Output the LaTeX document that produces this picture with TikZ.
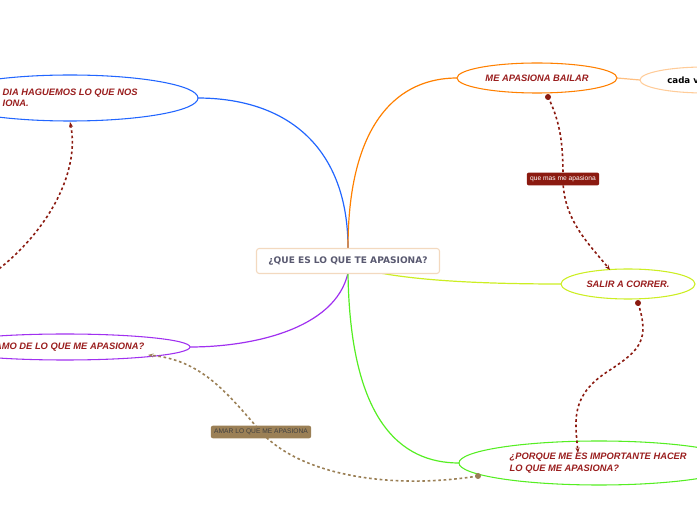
\documentclass[tikz,border=0pt]{standalone}
\usepackage{fontspec}
\setmainfont{Liberation Sans}
\newfontfamily\dvs{DejaVu Sans}
\usetikzlibrary{arrows.meta,shapes.geometric}
\definecolor{dred}{HTML}{8B1A10}
\definecolor{tred}{HTML}{9A1E1E}
\definecolor{brn}{HTML}{9B8056}
\definecolor{bl}{HTML}{2266FF}
\definecolor{pu}{HTML}{A030F0}
\definecolor{gr}{HTML}{55EE22}
\definecolor{yg}{HTML}{CCEE22}
\tikzset{x=0.75pt,y=-0.75pt,
 topic/.style={draw,ellipse,fill=white,line width=0.8pt},
 ttext/.style={font=\bfseries\itshape\fontsize{7}{8.5}\selectfont,text=tred,align=left},
 branch/.style={line width=0.9pt},
 rel/.style={draw=dred,line width=1.2pt,dash pattern=on 2pt off 2pt,-{Stealth[length=4pt]}},
 lbl/.style={rounded corners=1.5pt,font=\fontsize{5}{6}\selectfont,inner sep=2.5pt}}
\begin{document}
\begin{tikzpicture}
\useasboundingbox (0,0) rectangle (697,520);
\clip (0,0) rectangle (697,520);
\coordinate (ctop) at (348,248);
\coordinate (cbot) at (348,273);
\draw[branch,bl] (ctop) .. controls (348,150) and (290,98) .. (197,98);
\draw[branch,orange] (ctop) .. controls (348,120) and (400,78) .. (457,78);
\draw[branch,pu] (cbot) .. controls (335,330) and (250,347) .. (190,347);
\draw[branch,gr] (cbot) .. controls (350,420) and (400,463) .. (459,463);
\draw[branch,yg] (370,271) .. controls (420,282) and (500,284) .. (561,284);
\draw[branch,orange!50] (617,78) -- (640,80);
\node[topic,draw=bl,minimum width=256*0.75pt,minimum height=46*0.75pt] (blue) at (70,98) {};
\node[ttext,anchor=west] at (-2,98) {DIA HAGUEMOS LO QUE NOS\\IONA.};
\node[topic,draw=pu,minimum width=250*0.75pt,minimum height=26*0.75pt] (purp) at (65,347) {};
\node[ttext,anchor=east] at (149,347) {AMO DE LO QUE ME APASIONA?};
\node[topic,draw=orange,minimum width=160*0.75pt,minimum height=30*0.75pt] (bail) at (537,78) {};
\node[ttext] at (537,78) {ME APASIONA BAILAR};
\node[topic,draw=orange!40,minimum width=130*0.75pt,minimum height=26*0.75pt] (cada) at (705,80) {};
\node[anchor=west,font=\dvs\bfseries\fontsize{6.5}{8}\selectfont,inner sep=0pt] at (667,80) {cada vez};
\node[topic,draw=yg,minimum width=134*0.75pt,minimum height=30*0.75pt] (corr) at (628,284) {};
\node[ttext] at (628,284) {SALIR A CORRER.};
\node[topic,draw=gr,minimum width=280*0.75pt,minimum height=44*0.75pt] (porq) at (599,463) {};
\node[ttext,anchor=west] at (505,463) {¿PORQUE ME ES IMPORTANTE HACER\\LO QUE ME APASIONA?};
\node[draw=orange!35!brown!30,fill=white,rounded corners=2pt,line width=0.8pt,minimum width=183*0.75pt,minimum height=25*0.75pt,font=\dvs\bfseries\fontsize{6.8}{8}\selectfont,text=black!70!blue!30!gray] (center) at (348,261) {¿QUE ES LO QUE TE APASIONA?};
% relations
\coordinate (b1) at (548,97);
\coordinate (b2) at (610,270);
\coordinate (bm) at (563,179);
\fill[dred] (b1) circle (3);
\draw[rel] (b1) .. controls (562,125) and (563,150) .. (bm) .. controls (563,220) and (590,245) .. (b2);
\node[lbl,fill=dred,text=white] (l1) at (bm) {que mas me apasiona};
\coordinate (c1) at (638,303);
\coordinate (c2) at (578,453);
\fill[dred] (c1) circle (3);
\draw[rel] (c1) .. controls (650,340) and (640,350) .. (610,370) .. controls (570,395) and (575,420) .. (c2);
\coordinate (d1) at (-5,272);
\coordinate (d2) at (70,122);
\draw[rel] (d1) .. controls (50,230) and (80,170) .. (d2);
\coordinate (e1) at (478,476);
\coordinate (e2) at (148,355);
\coordinate (em) at (261,432);
\fill[brn] (e1) circle (3);
\draw[draw=brn,line width=1.2pt,dash pattern=on 2pt off 2pt,-{Stealth[length=4pt]}] (e1) .. controls (390,490) and (300,475) .. (em) .. controls (225,390) and (200,360) .. (e2);
\node[lbl,fill=brn,text=black!75] (l2) at (em) {AMAR LO QUE ME APASIONA};
\end{tikzpicture}
\end{document}
